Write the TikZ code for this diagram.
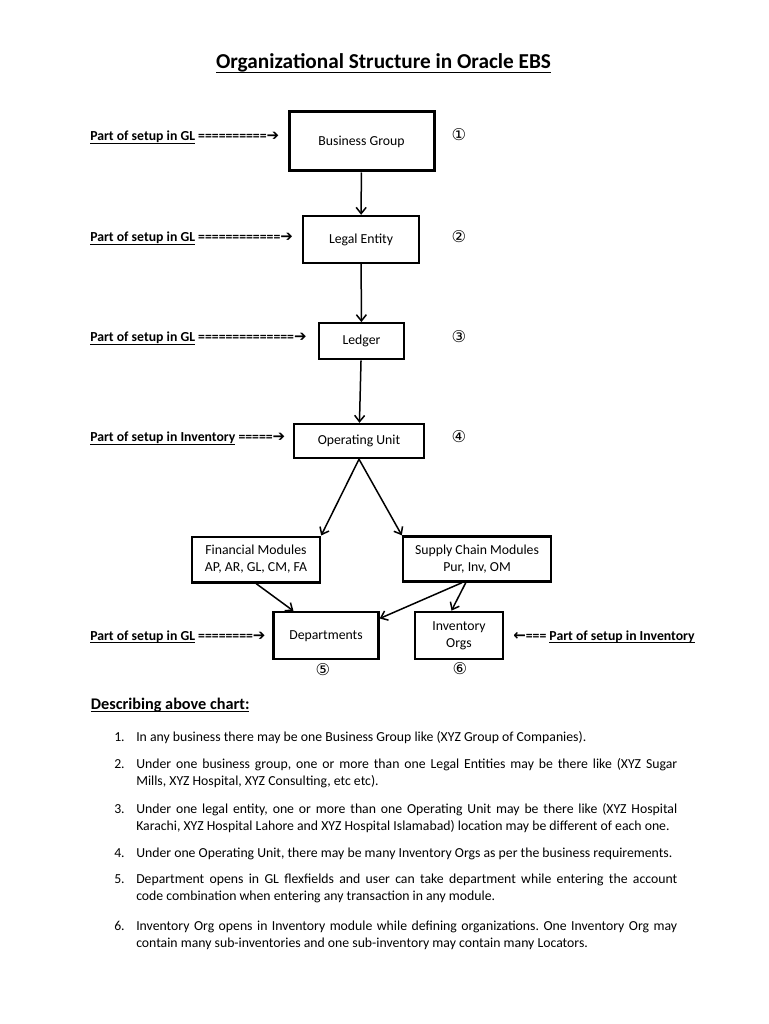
\documentclass[tikz,border=0pt]{standalone}
\usepackage{fontspec}
\setmainfont{Carlito}
\newfontfamily\symfnt{DejaVu Sans}
\usetikzlibrary{arrows.meta}
\frenchspacing
\newcommand\undl[1]{\setbox0\hbox{#1}\rlap{\rule[-0.2em]{\wd0}{0.065em}}\box0\relax}
\newcommand\rarr{{\symfnt\fontsize{12}{12}\selectfont ➔}}
\newcommand\larr{{\symfnt\bfseries\fontsize{12}{12}\selectfont ←}}
\begin{document}
\begin{tikzpicture}[x=0.8pt, y=-0.8pt,
  box/.style={draw, line width=1.9pt, inner sep=0, align=center, font=\fontsize{11}{13.6}\selectfont},
  lbl/.style={anchor=base west, inner sep=0, font=\bfseries\fontsize{11}{13}\selectfont},
  num/.style={inner sep=0, font=\symfnt\fontsize{13}{14}\selectfont},
  link/.style={line width=1.2pt, -{Straight Barb[length=5pt,width=8pt]}},
  item/.style={anchor=base west, inner sep=0, text width=432.8pt, align=justify, font=\fontsize{11}{14.2}\selectfont}]
\useasboundingbox[fill=white] (0,0) rectangle (768,1024);
\node[lbl, anchor=base, font=\bfseries\fontsize{17}{20}\selectfont] (title) at (383.5,69) {\undl{Organizational Structure in Oracle EBS}};
\node[box, line width=2.4pt, minimum width=116pt, minimum height=47.2pt] (bg) at (361.5,141.5) {Business Group};
\node[box, minimum width=92.8pt, minimum height=37.6pt] (le) at (361,239.5) {Legal Entity};
\node[box, minimum width=68pt, minimum height=28.8pt] (led) at (361.5,341.3) {Ledger};
\node[box, minimum width=104pt, minimum height=27.2pt] (ou) at (359,441) {Operating Unit};
\node[box, minimum width=102.4pt, minimum height=36.5pt] (fm) at (256,559.5) {Financial Modules\\AP, AR, GL, CM, FA};
\node[box, minimum width=118.4pt, minimum height=36pt] (sc) at (477,559) {Supply Chain Modules\\Pur, Inv, OM};
\node[box, minimum width=84pt, minimum height=37.6pt] (dep) at (326,635.7) {Departments};
\node[box, minimum width=70.4pt, minimum height=37.6pt] (io) at (459,635.3) {Inventory\\Orgs};
\draw[link] (bg) -- (le);
\draw[link] (le) -- (led);
\draw[link] (led) -- (ou);
\draw[link] (ou.south) -- (fm.north east);
\draw[link] (ou.south) -- (sc.north west);
\draw[link] (fm.south) -- ([xshift=-26pt]dep.north);
\draw[link] ([xshift=-12pt]sc.south) -- ([yshift=-6pt]dep.north east);
\draw[link] ([xshift=-9pt]sc.south) -- ([xshift=-6pt]io.north);
\node[lbl] (gl1) at (90,140.7) {\undl{Part of setup in GL} ==========\rarr};
\node[lbl] (gl2) at (90,241.7) {\undl{Part of setup in GL} ============\rarr};
\node[lbl] (gl3) at (90,341.7) {\undl{Part of setup in GL} ==============\rarr};
\node[lbl] (inv1) at (90,441.7) {\undl{Part of setup in Inventory} =====\rarr};
\node[lbl] (gl4) at (90,640) {\undl{Part of setup in GL} ========\rarr};
\node[lbl] (inv2) at (513,640) {\larr=== \undl{Part of setup in Inventory}};
\foreach \c/\x/\y [count=\i] in {①/459/135, ②/459/237, ③/459/337, ④/459/437, ⑤/323/670, ⑥/460/669}
  \node[num] (c\i) at (\x,\y) {\c};
\node[lbl, font=\bfseries\fontsize{13}{16}\selectfont] (desc) at (90.7,709) {\undl{Describing above chart:}};
\foreach \y [count=\i] in {741,768,813,857,883,930}
  \node[anchor=base west, inner sep=0, font=\fontsize{11}{14}\selectfont] (k\i) at (114,\y) {\i.};
\node[item] (t1) at (136,741) {In any business there may be one Business Group like (XYZ Group of Companies).};
\node[item] (t2) at (136,768) {Under one business group, one or more than one Legal Entities may be there like (XYZ Sugar\linebreak Mills, XYZ Hospital, XYZ Consulting, etc etc).};
\node[item] (t3) at (136,813) {Under one legal entity, one or more than one Operating Unit may be there like (XYZ Hospital\linebreak Karachi, XYZ Hospital Lahore and XYZ Hospital Islamabad) location may be different of each one.};
\node[item] (t4) at (136,857) {Under one Operating Unit, there may be many Inventory Orgs as per the business requirements.};
\node[item] (t5) at (136,883) {Department opens in GL flexfields and user can take department while entering the account\linebreak code combination when entering any transaction in any module.};
\node[item] (t6) at (136,930) {Inventory Org opens in Inventory module while defining organizations. One Inventory Org may\linebreak contain many sub-inventories and one sub-inventory may contain many Locators.};
\end{tikzpicture}
\end{document}
